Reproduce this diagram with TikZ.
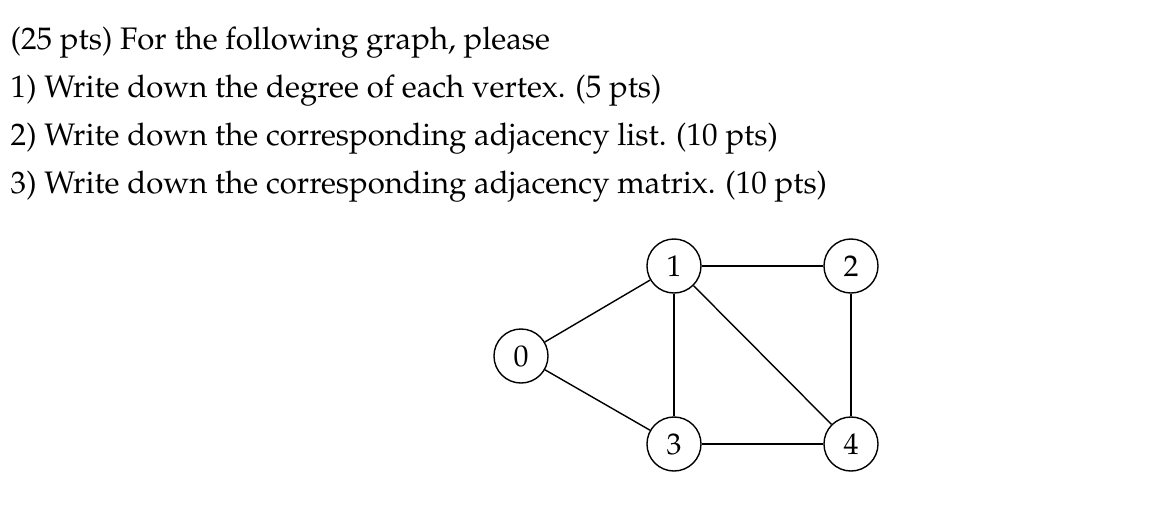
\documentclass[tikz,border=0pt]{standalone}
\usepackage[T1]{fontenc}
\usepackage{mathpazo}
\usepackage{tikz}

\tikzset{
  vertex/.style={draw, circle, minimum size=0.54cm, inner sep=0pt, font=\fontsize{8.5}{10}\selectfont},
  qline/.style={anchor=base west, inner sep=0pt, font=\fontsize{8.85}{10}\selectfont}
}

\begin{document}
\begin{tikzpicture}[x=0.01cm, y=-0.01cm]
      \useasboundingbox (0,0) rectangle (1162,517);
      % question text
      \node[qline] (q0) at (10,49) {(25 pts) For the following graph, please};
      \node[qline] (q1) at (10,97) {1) Write down the degree of each vertex. (5 pts)};
      \node[qline] (q2) at (10,145) {2) Write down the corresponding adjacency list. (10 pts)};
      \node[qline] (q3) at (10,193) {3) Write down the corresponding adjacency matrix. (10 pts)};
      % the graph
      \node[vertex] (v0) at (521,356) {0};
      \node[vertex] (v1) at (674,266) {1};
      \node[vertex] (v2) at (851,266) {2};
      \node[vertex] (v3) at (674,444) {3};
      \node[vertex] (v4) at (851,444) {4};
      \draw (v0) -- (v1);
      \draw (v0) -- (v3);
      \draw (v1) -- (v2);
      \draw (v1) -- (v3);
      \draw (v1) -- (v4);
      \draw (v2) -- (v4);
      \draw (v3) -- (v4);
    \end{tikzpicture}
\end{document}
